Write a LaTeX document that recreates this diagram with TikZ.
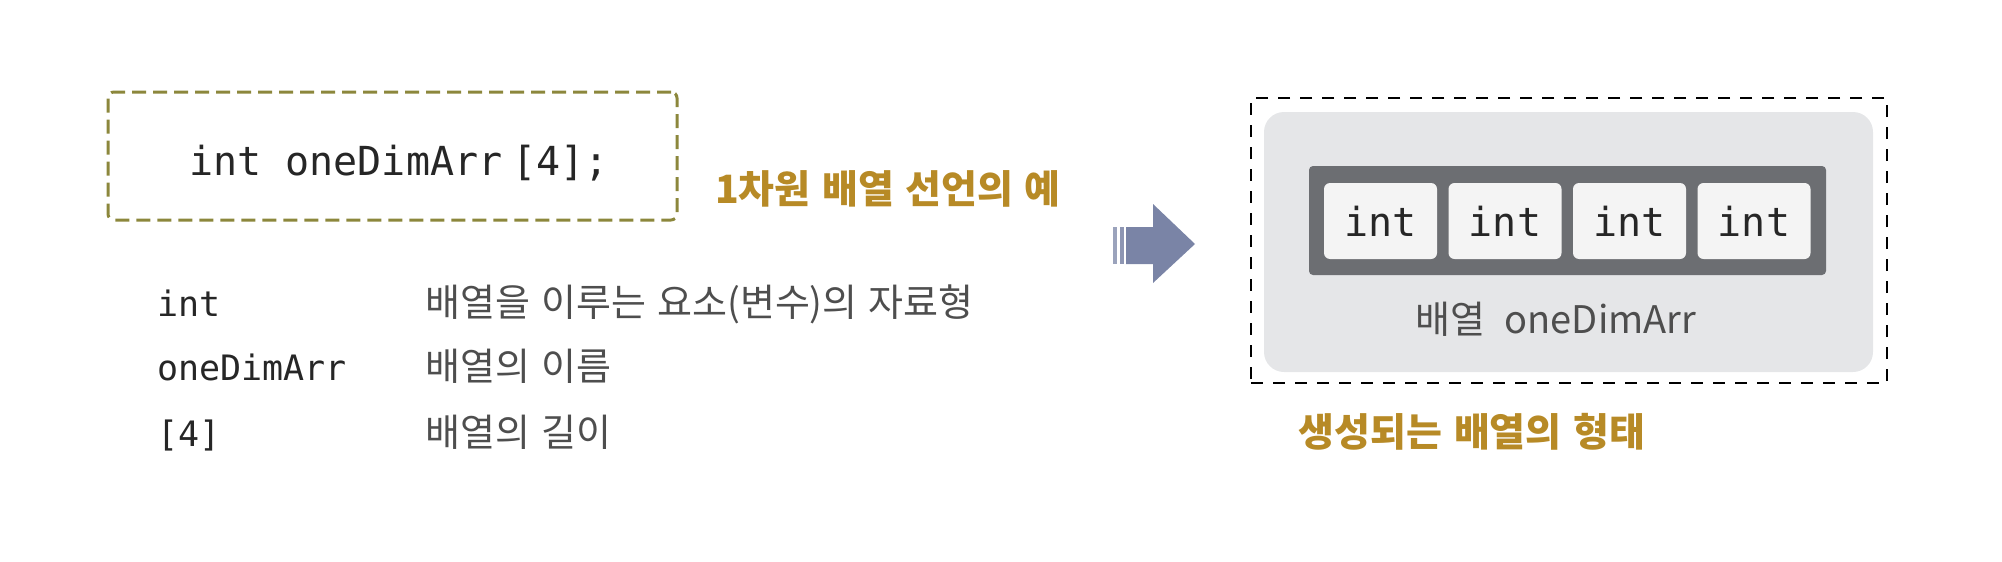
\documentclass[tikz,border=0pt]{standalone}
\usepackage{fontspec}
\newfontfamily\kr{Noto Sans CJK KR}[WordSpace=2.2]
\newfontfamily\krtext{Noto Sans CJK KR}[WordSpace=1.3]
\newfontfamily\mono{DejaVu Sans Mono}
\definecolor{gold}{RGB}{183,138,38}
\definecolor{olive}{RGB}{140,135,60}
\definecolor{arrowblue}{RGB}{122,132,166}
\definecolor{panel}{RGB}{229,230,232}
\definecolor{bar}{RGB}{108,110,114}
\definecolor{cell}{RGB}{244,244,244}
\definecolor{codeink}{RGB}{38,38,38}
\definecolor{descink}{RGB}{78,78,78}
\tikzset{
  codebox/.style={draw=olive, line width=1.5pt, dash pattern=on 7pt off 3.5pt, rounded corners=3pt, minimum width=284.5pt, minimum height=64pt, inner sep=0pt},
  outerbox/.style={draw=black, line width=1pt, dash pattern=on 6pt off 5pt, minimum width=318pt, minimum height=142.5pt, inner sep=0pt},
  panelbox/.style={fill=panel, rounded corners=10pt, minimum width=304.5pt, minimum height=130pt, inner sep=0pt},
  barbox/.style={fill=bar, rounded corners=2pt, minimum width=258.5pt, minimum height=54.5pt, inner sep=0pt},
  cellbox/.style={fill=cell, rounded corners=3pt, minimum width=56.5pt, minimum height=38pt, inner sep=0pt, text=codeink, font=\mono\fontsize{20pt}{24pt}\selectfont},
  goldlabel/.style={text=gold, inner sep=0pt, font=\kr\bfseries\fontsize{#1}{#1}\selectfont},
  codetext/.style={text=codeink, inner sep=0pt, font=\mono\fontsize{20pt}{24pt}\selectfont},
  termtext/.style={text=codeink, anchor=west, inner sep=0pt, text height=0.75em, text depth=0.2em, font=\mono\fontsize{17.5pt}{20pt}\selectfont},
  desctext/.style={text=descink, anchor=west, inner sep=0pt, text height=0.75em, text depth=0.2em, font=\krtext\fontsize{19pt}{22pt}\selectfont},
}
\begin{document}
\begin{tikzpicture}[x=0.5pt,y=-0.5pt]
\useasboundingbox (0,0) rectangle (2002,562);
% left declaration box
\node[codebox] (decl) at (392.5,156) {};
\node[codetext] (code) at (399,163) {int oneDimArr\hspace{0.25em}[4];};
\node[goldlabel=19.5pt] (lbl1) at (888,189) {1차원 배열 선언의 예};
% table
\node[termtext] (t1) at (157,311) {int};
\node[termtext] (t2) at (157,375) {oneDimArr};
\node[termtext] (t3) at (157,441) {[4]};
\node[desctext] (d1) at (425,311) {배열을 이루는 요소(변수)의 자료형};
\node[desctext] (d2) at (425,375) {배열의 이름};
\node[desctext] (d3) at (425,441) {배열의 길이};
% arrow
\fill[arrowblue!75] (1113,227) rectangle (1117,264);
\fill[arrowblue!85] (1120,227) rectangle (1124,264);
\fill[arrowblue] (1126,227) -- (1153,227) -- (1153,204) -- (1195,244) -- (1153,283) -- (1153,264) -- (1126,264) -- cycle;
% right structure
\node[outerbox] (outer) at (1569,240.5) {};
\node[panelbox] (panel) at (1568.5,242) {};
\node[barbox] (arr) at (1567.5,220.5) {};
\node[cellbox] (c1) at (1380.5,221) {int};
\node[cellbox] (c2) at (1505,221) {int};
\node[cellbox] (c3) at (1629.5,221) {int};
\node[cellbox] (c4) at (1754,221) {int};
\node[text=descink, inner sep=0pt, font=\krtext\fontsize{19pt}{22pt}\selectfont] (name) at (1556,319) {배열\hspace{0.5em}oneDimArr};
\node[goldlabel=19.5pt] (lbl2) at (1472,432) {생성되는 배열의 형태};
\end{tikzpicture}
\end{document}
